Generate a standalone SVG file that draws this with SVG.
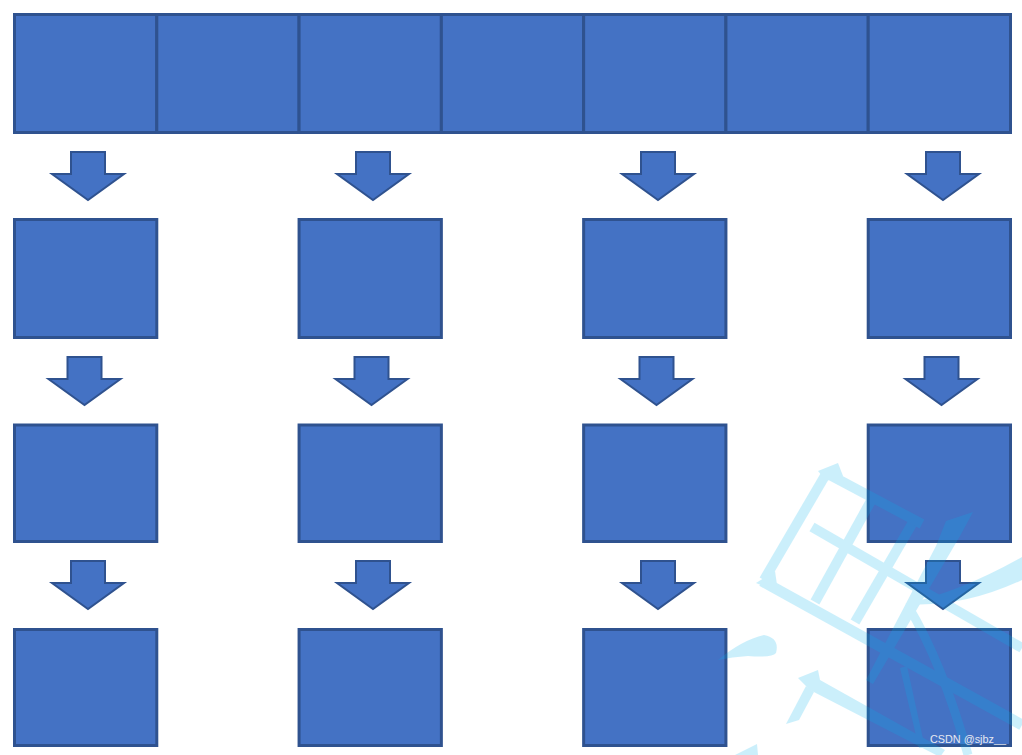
<svg xmlns="http://www.w3.org/2000/svg" xmlns:xlink="http://www.w3.org/1999/xlink" width="1022" height="755" viewBox="0 0 1022 755">
  <style>
    .box { fill: #4472C4; stroke: #2F528F; stroke-width: 3; }
    .arrow { fill: #4472C4; stroke: #2F528F; stroke-width: 2; stroke-linejoin: miter; }
    .wm { fill: #00B4F0; stroke: none; }
    .wml { fill: none; stroke: #00B4F0; stroke-linecap: butt; }
    .credit { font-family: "Liberation Sans", Arial, sans-serif; font-size: 11.5px; fill: #E4E8F0; }
  </style>
  <defs>
    <path id="arr" d="M -17 0 H 17 V 22 H 36 L 0 48 L -36 22 H -17 Z"/>
  </defs>
  <rect x="0" y="0" width="1022" height="755" fill="#FFFFFF"/>

  <g id="top-row">
    <rect id="t0" class="box" x="14.5" y="14.5" width="142.29" height="118"/>
    <rect id="t1" class="box" x="156.79" y="14.5" width="142.29" height="118"/>
    <rect id="t2" class="box" x="299.07" y="14.5" width="142.29" height="118"/>
    <rect id="t3" class="box" x="441.36" y="14.5" width="142.29" height="118"/>
    <rect id="t4" class="box" x="583.64" y="14.5" width="142.29" height="118"/>
    <rect id="t5" class="box" x="725.93" y="14.5" width="142.29" height="118"/>
    <rect id="t6" class="box" x="868.21" y="14.5" width="142.29" height="118"/>
  </g>

  <g id="row2">
    <rect id="r2c0" class="box" x="14.5" y="219.5" width="142.29" height="118"/>
    <rect id="r2c2" class="box" x="299.07" y="219.5" width="142.29" height="118"/>
    <rect id="r2c4" class="box" x="583.64" y="219.5" width="142.29" height="118"/>
    <rect id="r2c6" class="box" x="868.21" y="219.5" width="142.29" height="118"/>
  </g>
  <g id="row3">
    <rect id="r3c0" class="box" x="14.5" y="425" width="142.29" height="116.5"/>
    <rect id="r3c2" class="box" x="299.07" y="425" width="142.29" height="116.5"/>
    <rect id="r3c4" class="box" x="583.64" y="425" width="142.29" height="116.5"/>
    <rect id="r3c6" class="box" x="868.21" y="425" width="142.29" height="116.5"/>
  </g>
  <g id="row4">
    <rect id="r4c0" class="box" x="14.5" y="629.5" width="142.29" height="116"/>
    <rect id="r4c2" class="box" x="299.07" y="629.5" width="142.29" height="116"/>
    <rect id="r4c4" class="box" x="583.64" y="629.5" width="142.29" height="116"/>
    <rect id="r4c6" class="box" x="868.21" y="629.5" width="142.29" height="116"/>
  </g>

  <g id="connectors">
    <use xlink:href="#arr" class="arrow" transform="translate(88,152)"/>
    <use xlink:href="#arr" class="arrow" transform="translate(373,152)"/>
    <use xlink:href="#arr" class="arrow" transform="translate(658,152)"/>
    <use xlink:href="#arr" class="arrow" transform="translate(943,152)"/>
    <use xlink:href="#arr" class="arrow" transform="translate(84.5,357)"/>
    <use xlink:href="#arr" class="arrow" transform="translate(371.5,357)"/>
    <use xlink:href="#arr" class="arrow" transform="translate(656.5,357)"/>
    <use xlink:href="#arr" class="arrow" transform="translate(941.5,357)"/>
    <use xlink:href="#arr" class="arrow" transform="translate(88,561)"/>
    <use xlink:href="#arr" class="arrow" transform="translate(373,561)"/>
    <use xlink:href="#arr" class="arrow" transform="translate(658,561)"/>
    <use xlink:href="#arr" class="arrow" transform="translate(943,561)"/>
  </g>

  <g id="watermark" opacity="0.2">
    <line class="wml" stroke-width="10" x1="828" y1="474" x2="922" y2="524"/>
    <polygon class="wm" points="818,471 838,463 843,476 826,481"/>
    <line class="wml" stroke-width="10" x1="826" y1="474" x2="764" y2="580"/>
    <polygon class="wm" points="756,583 775,571 778,592"/>
    <line class="wml" stroke-width="10" x1="812" y1="527" x2="1022" y2="648"/>
    <line class="wml" stroke-width="11" x1="762" y1="581" x2="1022" y2="725"/>
    <line class="wml" stroke-width="10" x1="872" y1="499" x2="815" y2="602"/>
    <line class="wml" stroke-width="10" x1="912" y1="524" x2="855" y2="622"/>
    <polygon class="wm" points="946,521 973,512 960,536 873,684 866,680 936,546"/>
    <path class="wm" d="M905,604 Q960,592 1022,557 L1022,580 Q962,608 905,604 Z"/>
    <path class="wml" stroke-width="9" d="M908,606 Q942,662 968,755"/>
    <polygon class="wm" points="900,668 907,666 925,748 919,748"/>
    <path class="wm" d="M718,660 Q742,640 764,635 Q780,638 776,653 Q772,658 748,656 Q732,657 718,660 Z"/>
    <polygon class="wm" points="798,678 818,670 820,680 945,750 940,757 810,690"/>
    <polygon class="wm" points="806,686 814,692 799,720 786,724"/>
    <polygon class="wm" points="735,755 757,744 758,755"/>
  </g>

  <text class="credit" x="930" y="743" textLength="76" lengthAdjust="spacingAndGlyphs">CSDN @sjbz__</text>
</svg>
